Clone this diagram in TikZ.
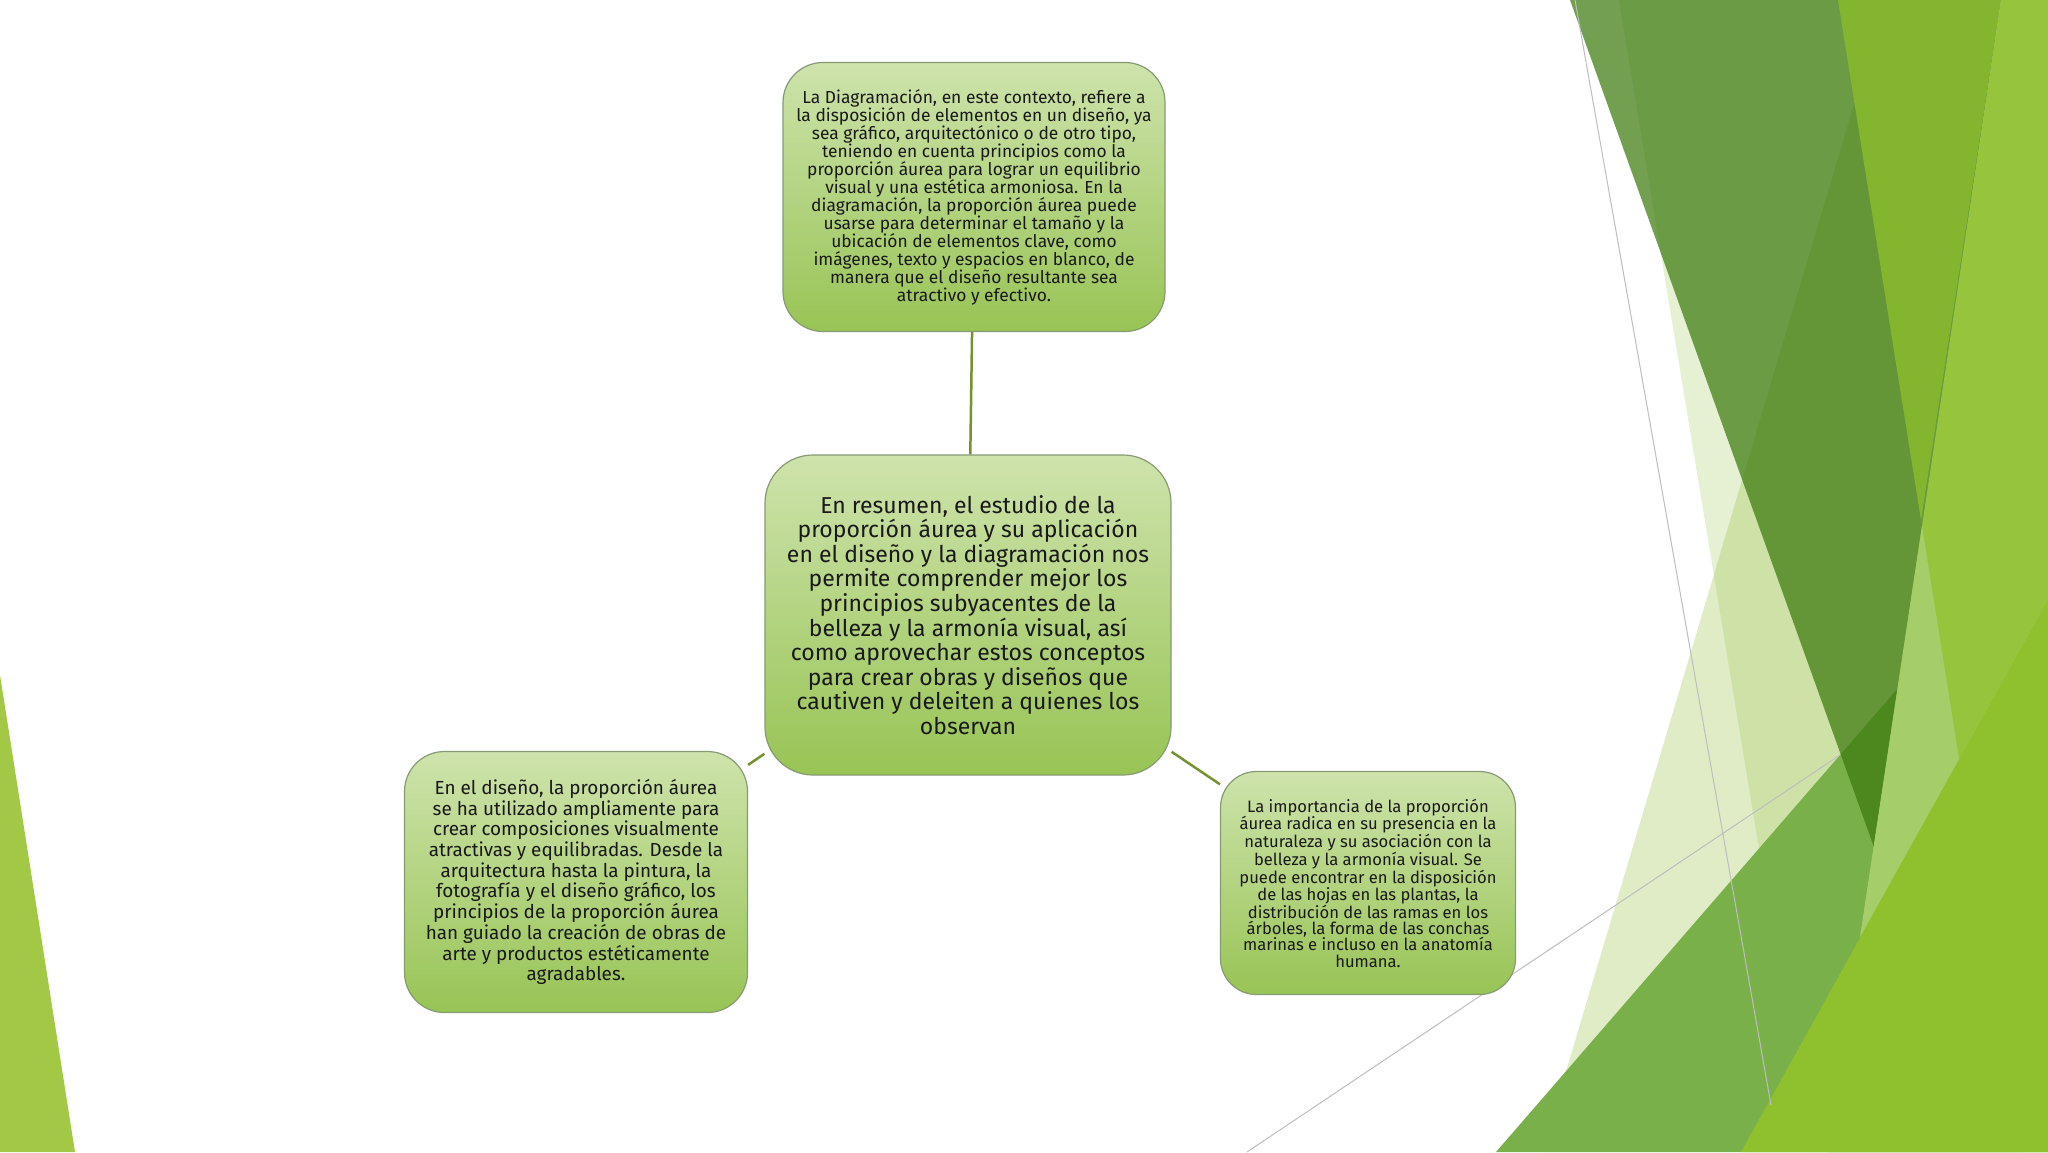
\documentclass[tikz,border=0pt]{standalone}
\usepackage{fontspec}
\setmainfont{Fira Sans}

\definecolor{franjaA}{RGB}{58,120,11}
\definecolor{franjaB}{RGB}{132,181,47}
\definecolor{franjaC}{RGB}{156,200,80}
\definecolor{franjaD}{RGB}{224,236,198}
\definecolor{franjaE}{RGB}{122,176,74}
\definecolor{franjaF}{RGB}{151,196,61}
\definecolor{franjaFC}{RGB}{165,205,106}
\definecolor{franjaG}{RGB}{143,192,45}
\definecolor{franjaIzq}{RGB}{162,200,69}
\definecolor{cajaarriba}{RGB}{206,227,172}
\definecolor{cajaabajo}{RGB}{152,196,85}
\definecolor{bordecaja}{RGB}{135,155,115}
\definecolor{enlacecolor}{RGB}{118,146,48}
\definecolor{hilogris}{RGB}{190,190,190}
\definecolor{textocaja}{RGB}{25,25,25}

\begin{document}
\begin{tikzpicture}[x=1pt,y=-1pt,
  caja/.style={draw=bordecaja, line width=1.2pt, rounded corners=40pt,
    top color=cajaarriba, bottom color=cajaabajo, text=textocaja,
    align=center, inner sep=0pt},
  enlace/.style={draw=enlacecolor, line width=2.5pt},
  hilo/.style={draw=hilogris, line width=1pt}]

\useasboundingbox[fill=white] (0,0) rectangle (2048,1152);

% fondo
\fill[franjaIzq] (0,675) -- (75,1152) -- (0,1152) -- cycle;
\fill[franjaD] (1885,0) -- (2048,0) -- (2048,1152) -- (1542,1152) -- cycle;
\fill[franjaC, opacity=0.25] (1619,0) -- (1838,0) -- (2022,1152) -- (1809,1152) -- cycle;
\fill[franjaE] (1496,1152) -- (2048,515) -- (2048,1152) -- cycle;
\fill[franjaA, opacity=0.71] (1570,0) -- (2001,0) -- (1875,850) -- cycle;
\fill[franjaB] (1838,0) -- (2001,0) -- (1921,520) -- cycle;
\fill[franjaF] (2001,0) -- (2048,0) -- (2048,1152) -- (1828,1152) -- cycle;
\fill[franjaFC] (1922,526) -- (1959,759) -- (1860,937) -- cycle;
\fill[franjaG] (1741,1152) -- (2048,600) -- (2048,1152) -- cycle;
\draw[hilo] (1575,0) -- (1771,1105);
\draw[hilo] (1247,1152) -- (1840,755);

% cajas
\node[caja, minimum width=382pt, minimum height=269pt,
  font=\fontsize{17.4}{18}\selectfont] (diagramacion) at (974,197) {%
La Diagramación, en este contexto, refiere a\\
la disposición de elementos en un diseño, ya\\
sea gráfico, arquitectónico o de otro tipo,\\
teniendo en cuenta principios como la\\
proporción áurea para lograr un equilibrio\\
visual y una estética armoniosa. En la\\
diagramación, la proporción áurea puede\\
usarse para determinar el tamaño y la\\
ubicación de elementos clave, como\\
imágenes, texto y espacios en blanco, de\\
manera que el diseño resultante sea\\
atractivo y efectivo.};

\node[caja, minimum width=406pt, minimum height=320pt, rounded corners=48pt,
  font=\fontsize{23}{24.6}\selectfont] (resumen) at (968,615) {%
En resumen, el estudio de la\\
proporción áurea y su aplicación\\
en el diseño y la diagramación nos\\
permite comprender mejor los\\
principios subyacentes de la\\
belleza y la armonía visual, así\\
como aprovechar estos conceptos\\
para crear obras y diseños que\\
cautiven y deleiten a quienes los\\
observan};

\node[caja, minimum width=343pt, minimum height=261pt,
  font=\fontsize{18.9}{20.7}\selectfont] (diseno) at (576,882) {%
En el diseño, la proporción áurea\\
se ha utilizado ampliamente para\\
crear composiciones visualmente\\
atractivas y equilibradas. Desde la\\
arquitectura hasta la pintura, la\\
fotografía y el diseño gráfico, los\\
principios de la proporción áurea\\
han guiado la creación de obras de\\
arte y productos estéticamente\\
agradables.};

\node[caja, minimum width=295pt, minimum height=223pt, rounded corners=36pt,
  font=\fontsize{16.6}{16.1}\selectfont] (importancia) at (1368,883) {%
La importancia de la proporción\\
áurea radica en su presencia en la\\
naturaleza y su asociación con la\\
belleza y la armonía visual. Se\\
puede encontrar en la disposición\\
de las hojas en las plantas, la\\
distribución de las ramas en los\\
árboles, la forma de las conchas\\
marinas e incluso en la anatomía\\
humana.};

% enlaces
\draw[enlace] (diagramacion) -- (resumen);
\draw[enlace] (resumen) -- (diseno);
\draw[enlace] (resumen) -- (importancia);
\end{tikzpicture}
\end{document}
